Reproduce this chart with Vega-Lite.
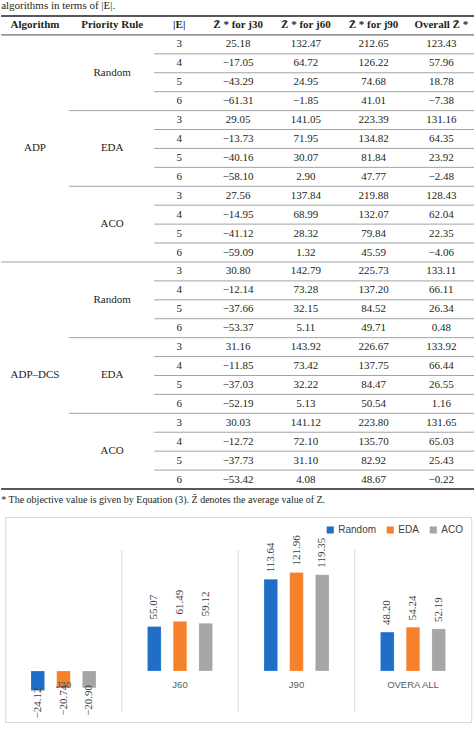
{
  "$schema": "https://vega.github.io/schema/vega-lite/v6.json",
  "padding": {"top": 0, "left": 0, "right": 0, "bottom": 0},
  "background": "white",
  "spacing": 4,
  "center": true,
  "resolve": {"legend": {"color": "independent"}, "scale": {"x": "independent", "y": "independent", "color": "independent"}},
  "config": {"view": {"stroke": null}, "font": "Liberation Serif"},
  "datasets": {
    "table": [
      {"alg": "ADP", "rule": "Random", "E": 3, "j30": 25.18, "j60": 132.47, "j90": 212.65, "overall": 123.43},
      {"alg": "ADP", "rule": "Random", "E": 4, "j30": -17.05, "j60": 64.72, "j90": 126.22, "overall": 57.96},
      {"alg": "ADP", "rule": "Random", "E": 5, "j30": -43.29, "j60": 24.95, "j90": 74.68, "overall": 18.78},
      {"alg": "ADP", "rule": "Random", "E": 6, "j30": -61.31, "j60": -1.85, "j90": 41.01, "overall": -7.38},
      {"alg": "ADP", "rule": "EDA", "E": 3, "j30": 29.05, "j60": 141.05, "j90": 223.39, "overall": 131.16},
      {"alg": "ADP", "rule": "EDA", "E": 4, "j30": -13.73, "j60": 71.95, "j90": 134.82, "overall": 64.35},
      {"alg": "ADP", "rule": "EDA", "E": 5, "j30": -40.16, "j60": 30.07, "j90": 81.84, "overall": 23.92},
      {"alg": "ADP", "rule": "EDA", "E": 6, "j30": -58.10, "j60": 2.90, "j90": 47.77, "overall": -2.48},
      {"alg": "ADP", "rule": "ACO", "E": 3, "j30": 27.56, "j60": 137.84, "j90": 219.88, "overall": 128.43},
      {"alg": "ADP", "rule": "ACO", "E": 4, "j30": -14.95, "j60": 68.99, "j90": 132.07, "overall": 62.04},
      {"alg": "ADP", "rule": "ACO", "E": 5, "j30": -41.12, "j60": 28.32, "j90": 79.84, "overall": 22.35},
      {"alg": "ADP", "rule": "ACO", "E": 6, "j30": -59.09, "j60": 1.32, "j90": 45.59, "overall": -4.06},
      {"alg": "ADP–DCS", "rule": "Random", "E": 3, "j30": 30.80, "j60": 142.79, "j90": 225.73, "overall": 133.11},
      {"alg": "ADP–DCS", "rule": "Random", "E": 4, "j30": -12.14, "j60": 73.28, "j90": 137.20, "overall": 66.11},
      {"alg": "ADP–DCS", "rule": "Random", "E": 5, "j30": -37.66, "j60": 32.15, "j90": 84.52, "overall": 26.34},
      {"alg": "ADP–DCS", "rule": "Random", "E": 6, "j30": -53.37, "j60": 5.11, "j90": 49.71, "overall": 0.48},
      {"alg": "ADP–DCS", "rule": "EDA", "E": 3, "j30": 31.16, "j60": 143.92, "j90": 226.67, "overall": 133.92},
      {"alg": "ADP–DCS", "rule": "EDA", "E": 4, "j30": -11.85, "j60": 73.42, "j90": 137.75, "overall": 66.44},
      {"alg": "ADP–DCS", "rule": "EDA", "E": 5, "j30": -37.03, "j60": 32.22, "j90": 84.47, "overall": 26.55},
      {"alg": "ADP–DCS", "rule": "EDA", "E": 6, "j30": -52.19, "j60": 5.13, "j90": 50.54, "overall": 1.16},
      {"alg": "ADP–DCS", "rule": "ACO", "E": 3, "j30": 30.03, "j60": 141.12, "j90": 223.80, "overall": 131.65},
      {"alg": "ADP–DCS", "rule": "ACO", "E": 4, "j30": -12.72, "j60": 72.10, "j90": 135.70, "overall": 65.03},
      {"alg": "ADP–DCS", "rule": "ACO", "E": 5, "j30": -37.73, "j60": 31.10, "j90": 82.92, "overall": 25.43},
      {"alg": "ADP–DCS", "rule": "ACO", "E": 6, "j30": -53.42, "j60": 4.08, "j90": 48.67, "overall": -0.22}
    ],
    "header": [
      {"key": "alg", "label": "Algorithm"},
      {"key": "rule", "label": "Priority Rule"},
      {"key": "E", "label": "|E|"},
      {"key": "j30", "label": "Z̄ * for j30"},
      {"key": "j60", "label": "Z̄ * for j60"},
      {"key": "j90", "label": "Z̄ * for j90"},
      {"key": "overall", "label": "Overall Z̄ *"}
    ],
    "bars": [
      {"cat": "J30", "rule": "Random", "value": -24.12},
      {"cat": "J30", "rule": "EDA", "value": -20.74},
      {"cat": "J30", "rule": "ACO", "value": -20.90},
      {"cat": "J60", "rule": "Random", "value": 55.07},
      {"cat": "J60", "rule": "EDA", "value": 61.49},
      {"cat": "J60", "rule": "ACO", "value": 59.12},
      {"cat": "J90", "rule": "Random", "value": 113.64},
      {"cat": "J90", "rule": "EDA", "value": 121.96},
      {"cat": "J90", "rule": "ACO", "value": 119.35},
      {"cat": "OVERA ALL", "rule": "Random", "value": 48.20},
      {"cat": "OVERA ALL", "rule": "EDA", "value": 54.24},
      {"cat": "OVERA ALL", "rule": "ACO", "value": 52.19}
    ]
  },
  "vconcat": [
    {
      "width": 474,
      "height": 473,
      "title": {"text": "algorithms in terms of |E|.", "anchor": "start", "frame": "group", "font": "Liberation Serif", "fontSize": 11, "fontWeight": "normal", "color": "#231f20", "offset": 4},
      "encoding": {
        "x": {"type": "nominal", "scale": {"domain": ["alg", "rule", "E", "j30", "j60", "j90", "overall"], "paddingInner": 0, "paddingOuter": 0}, "axis": null},
        "y": {"type": "ordinal", "scale": {"domain": [0, 1, 2, 3, 4, 5, 6, 7, 8, 9, 10, 11, 12, 13, 14, 15, 16, 17, 18, 19, 20, 21, 22, 23, 24], "paddingInner": 0, "paddingOuter": 0}, "axis": null}
      },
      "layer": [
        {
          "data": {"name": "table"},
          "transform": [{"window": [{"op": "row_number", "as": "r"}]}, {"filter": "datum.E != 6"}],
          "mark": {"type": "rule", "color": "#8c8c8c", "strokeWidth": 0.8},
          "encoding": {
            "x": {"datum": "E", "bandPosition": 0.26},
            "x2": {"datum": "overall", "bandPosition": 1},
            "y": {"field": "r", "bandPosition": 1}
          }
        },
        {
          "data": {"name": "table"},
          "transform": [{"window": [{"op": "row_number", "as": "r"}]}, {"filter": "datum.E == 6 && datum.rule != 'ACO'"}],
          "mark": {"type": "rule", "color": "#8c8c8c", "strokeWidth": 0.8},
          "encoding": {
            "x": {"datum": "rule", "bandPosition": 0},
            "x2": {"datum": "overall", "bandPosition": 1},
            "y": {"field": "r", "bandPosition": 1}
          }
        },
        {
          "data": {"name": "table"},
          "transform": [{"window": [{"op": "row_number", "as": "r"}]}, {"filter": "datum.r == 12"}],
          "mark": {"type": "rule", "color": "#8c8c8c", "strokeWidth": 0.8},
          "encoding": {
            "x": {"datum": "alg", "bandPosition": 0},
            "x2": {"datum": "overall", "bandPosition": 1},
            "y": {"field": "r", "bandPosition": 1}
          }
        },
        {
          "data": {"name": "table"},
          "transform": [{"window": [{"op": "row_number", "as": "r"}]}, {"filter": "datum.r == 24"}],
          "mark": {"type": "rule", "color": "#231f20", "strokeWidth": 1.5},
          "encoding": {
            "x": {"datum": "alg", "bandPosition": 0},
            "x2": {"datum": "overall", "bandPosition": 1},
            "y": {"field": "r", "bandPosition": 1}
          }
        },
        {
          "data": {"name": "header"},
          "transform": [{"filter": "datum.key == 'alg'"}],
          "mark": {"type": "rule", "color": "#231f20", "strokeWidth": 1.5},
          "encoding": {
            "x": {"datum": "alg", "bandPosition": 0},
            "x2": {"datum": "overall", "bandPosition": 1},
            "y": {"datum": 0, "bandPosition": 0}
          }
        },
        {
          "data": {"name": "header"},
          "transform": [{"filter": "datum.key == 'alg'"}],
          "mark": {"type": "rule", "color": "#231f20", "strokeWidth": 0.8},
          "encoding": {
            "x": {"datum": "alg", "bandPosition": 0},
            "x2": {"datum": "overall", "bandPosition": 1},
            "y": {"datum": 0, "bandPosition": 1}
          }
        },
        {
          "data": {"name": "header"},
          "transform": [{"filter": "datum.key != 'rule' && datum.key != 'E'"}],
          "mark": {"type": "text", "font": "Liberation Serif", "fontSize": 11, "fontWeight": "bold", "color": "#231f20"},
          "encoding": {
            "x": {"field": "key"},
            "y": {"datum": 0},
            "text": {"field": "label"}
          }
        },
        {
          "data": {"name": "header"},
          "transform": [{"filter": "datum.key == 'rule'"}],
          "mark": {"type": "text", "font": "Liberation Serif", "fontSize": 11, "fontWeight": "bold", "color": "#231f20"},
          "encoding": {
            "x": {"field": "key", "bandPosition": 0.64},
            "y": {"datum": 0},
            "text": {"field": "label"}
          }
        },
        {
          "data": {"name": "header"},
          "transform": [{"filter": "datum.key == 'E'"}],
          "mark": {"type": "text", "font": "Liberation Serif", "fontSize": 11, "fontWeight": "bold", "color": "#231f20"},
          "encoding": {
            "x": {"field": "key", "bandPosition": 0.63},
            "y": {"datum": 0},
            "text": {"field": "label"}
          }
        },
        {
          "data": {"name": "table"},
          "transform": [
            {"window": [{"op": "row_number", "as": "r"}]},
            {"fold": ["j30", "j60", "j90", "overall"], "as": ["key", "value"]}
          ],
          "mark": {"type": "text", "font": "Liberation Serif", "fontSize": 11, "color": "#231f20"},
          "encoding": {
            "x": {"field": "key"},
            "y": {"field": "r"},
            "text": {"field": "value", "type": "quantitative", "format": ".2f"}
          }
        },
        {
          "data": {"name": "table"},
          "transform": [{"window": [{"op": "row_number", "as": "r"}]}],
          "mark": {"type": "text", "font": "Liberation Serif", "fontSize": 11, "color": "#231f20"},
          "encoding": {
            "x": {"datum": "E", "bandPosition": 0.63},
            "y": {"field": "r"},
            "text": {"field": "E", "type": "quantitative", "format": "d"}
          }
        },
        {
          "data": {"name": "table"},
          "transform": [{"window": [{"op": "row_number", "as": "r"}]}, {"filter": "datum.E == 4"}],
          "mark": {"type": "text", "font": "Liberation Serif", "fontSize": 11, "color": "#231f20"},
          "encoding": {
            "x": {"datum": "rule", "bandPosition": 0.64},
            "y": {"field": "r", "bandPosition": 1},
            "text": {"field": "rule"}
          }
        },
        {
          "data": {"name": "table"},
          "transform": [{"window": [{"op": "row_number", "as": "r"}]}, {"filter": "datum.E == 4 && datum.rule == 'EDA'"}],
          "mark": {"type": "text", "font": "Liberation Serif", "fontSize": 11, "color": "#231f20"},
          "encoding": {
            "x": {"datum": "alg"},
            "y": {"field": "r", "bandPosition": 1},
            "text": {"field": "alg"}
          }
        }
      ]
    },
    {
      "width": 466,
      "height": 205,
      "view": {"stroke": "#d9d9d9", "strokeWidth": 1},
      "title": {"text": "* The objective value is given by Equation (3). Z̄ denotes the average value of Z.", "anchor": "start", "frame": "group", "font": "Liberation Serif", "fontSize": 10, "fontWeight": "normal", "color": "#231f20", "offset": 12, "dx": -4},
      "data": {"name": "bars"},
      "encoding": {
        "x": {"field": "cat", "type": "nominal", "scale": {"domain": ["J30", "J60", "J90", "OVERA ALL"], "paddingInner": 0, "paddingOuter": 0}, "axis": null},
        "y": {"type": "quantitative", "scale": {"domain": [-63.2, 190.83], "nice": false, "zero": false}, "axis": null}
      },
      "layer": [
        {
          "transform": [{"filter": "datum.rule == 'Random' && datum.cat != 'J30'"}],
          "mark": {"type": "rule", "color": "#d9d9d9", "strokeWidth": 1},
          "encoding": {
            "x": {"field": "cat", "bandPosition": 0},
            "y": {"datum": -50.8},
            "y2": {"datum": 150}
          }
        },
        {
          "mark": {"type": "bar", "stroke": "white", "strokeOpacity": 0.35, "strokeWidth": 0.6},
          "encoding": {
            "xOffset": {"field": "rule", "type": "nominal", "scale": {"domain": ["Random", "EDA", "ACO"], "paddingInner": 0.47, "paddingOuter": 1.16}},
            "y": {"field": "value", "type": "quantitative"},
            "y2": {"datum": 0},
            "color": {
              "field": "rule", "type": "nominal",
              "scale": {"domain": ["Random", "EDA", "ACO"], "range": ["#1f6fc6", "#f5812b", "#a6a6a6"]},
              "legend": {"title": null, "orient": "top-right", "direction": "horizontal", "symbolType": "square", "symbolSize": 50, "symbolStrokeWidth": 0, "labelFont": "Liberation Sans", "labelFontSize": 10, "labelColor": "#404040", "columnPadding": 9, "labelOffset": 3, "offset": 8, "padding": 0}
            }
          }
        },
        {
          "mark": {"type": "rule", "color": "#d9d9d9", "strokeWidth": 1},
          "encoding": {"y": {"datum": 0}}
        },
        {
          "transform": [{"filter": "datum.value >= 0"}],
          "mark": {"type": "text", "angle": 270, "align": "left", "baseline": "middle", "dx": 7, "font": "Liberation Serif", "fontSize": 11, "color": "#404040"},
          "encoding": {
            "xOffset": {"field": "rule", "type": "nominal"},
            "y": {"field": "value", "type": "quantitative"},
            "text": {"field": "value", "type": "quantitative", "format": ".2f"}
          }
        },
        {
          "transform": [{"filter": "datum.value < 0"}],
          "mark": {"type": "text", "angle": 270, "align": "right", "baseline": "middle", "dx": 3, "font": "Liberation Serif", "fontSize": 11, "color": "#404040"},
          "encoding": {
            "xOffset": {"field": "rule", "type": "nominal"},
            "y": {"field": "value", "type": "quantitative"},
            "text": {"field": "value", "type": "quantitative", "format": ".2f"}
          }
        },
        {
          "transform": [{"filter": "datum.rule == 'Random'"}],
          "mark": {"type": "text", "baseline": "top", "dy": 9, "font": "Liberation Sans", "fontSize": 9.5, "color": "#595959"},
          "encoding": {
            "y": {"datum": 0},
            "text": {"field": "cat"}
          }
        }
      ]
    }
  ]
}
